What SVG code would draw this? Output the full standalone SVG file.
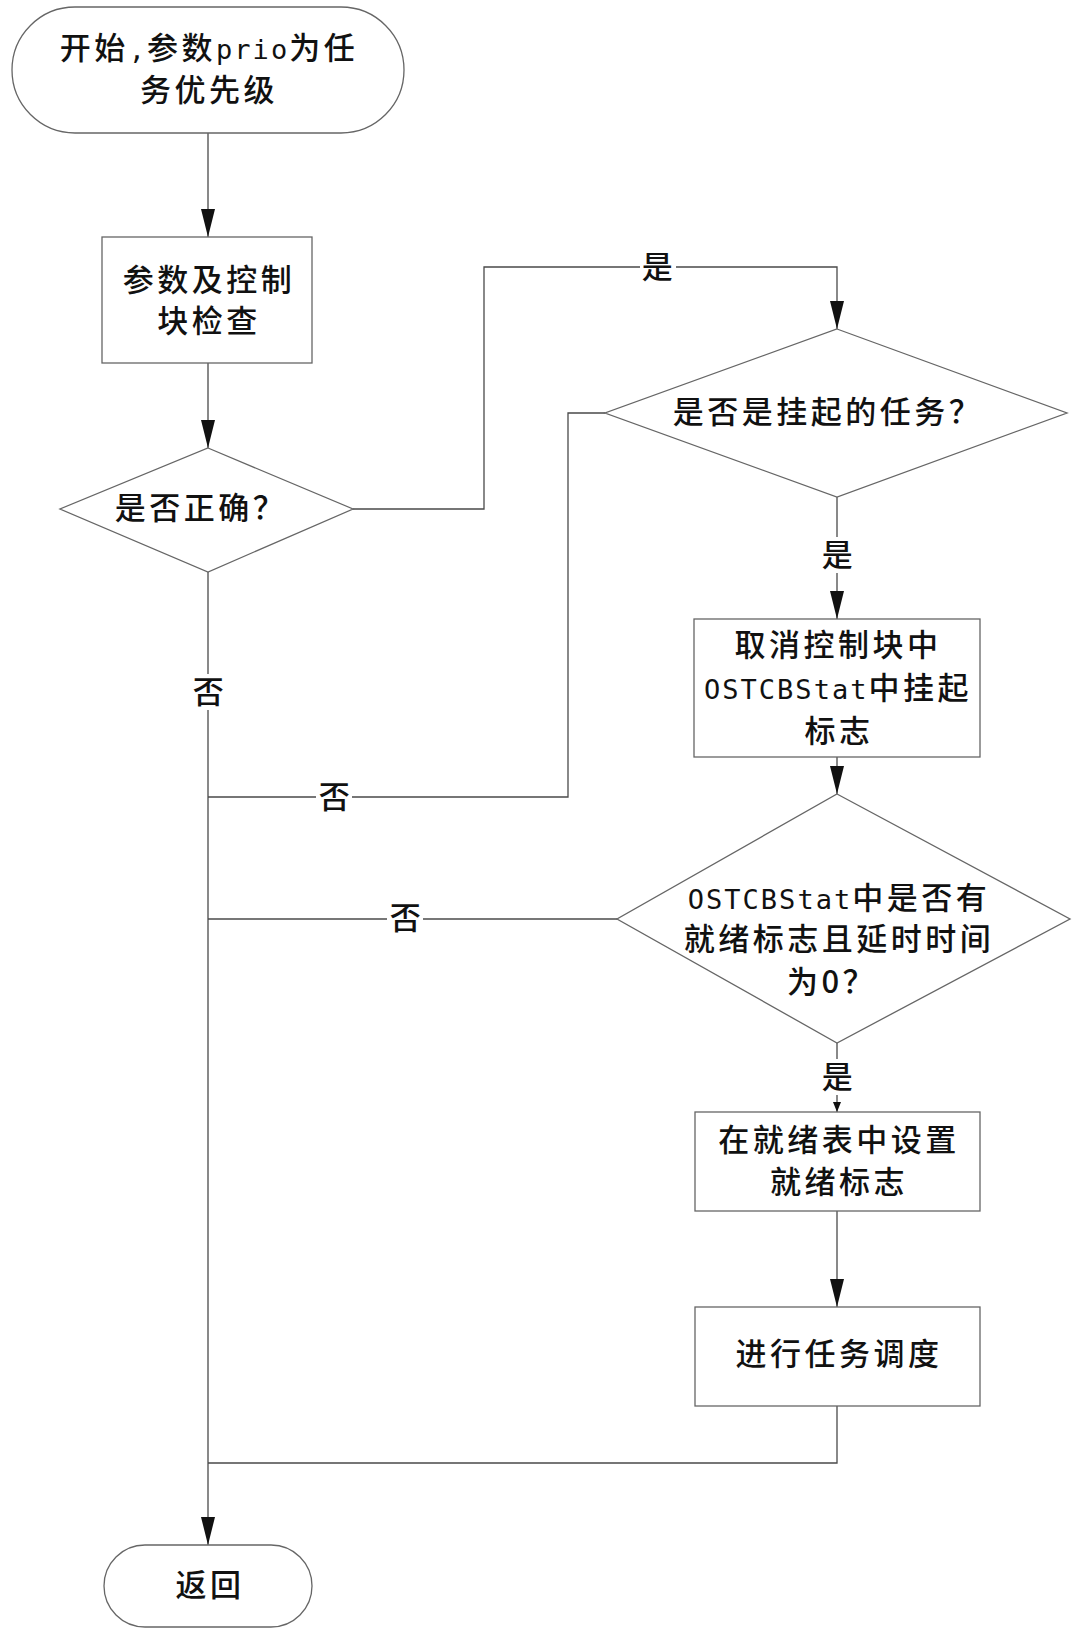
<svg xmlns="http://www.w3.org/2000/svg" width="1076" height="1634" viewBox="0 0 1076 1634">
<defs>
<style>
.shape{fill:#fff;stroke:#666;stroke-width:1.3}
.line{fill:none;stroke:#4a4a4a;stroke-width:1.3}
.t{font-family:"Noto Sans CJK SC","DejaVu Sans",sans-serif;font-size:31px;font-weight:500;letter-spacing:3.5px;fill:#111;text-anchor:middle}
.lat{font-family:"DejaVu Sans Mono","Noto Sans CJK SC",monospace;font-size:27px;letter-spacing:2px;font-weight:400}
.bg{fill:#fff}
</style>
<marker id="arr" markerUnits="userSpaceOnUse" markerWidth="30" markerHeight="16" refX="28" refY="7" orient="auto">
<path d="M0,0 L28,7 L0,14 z" fill="#111"/>
</marker>
<marker id="arrs" markerUnits="userSpaceOnUse" markerWidth="12" markerHeight="10" refX="10" refY="4" orient="auto">
<path d="M0,0 L10,4 L0,8 z" fill="#111"/>
</marker>
</defs>
<rect width="1076" height="1634" fill="#fff"/>

<g id="connectors">
<path class="line" d="M208,133 V237" marker-end="url(#arr)"/>
<path class="line" d="M208,363 V448" marker-end="url(#arr)"/>
<path class="line" d="M353,509 H484 V267 H837 V329" marker-end="url(#arr)"/>
<path class="line" d="M208,572 V1545" marker-end="url(#arr)"/>
<path class="line" d="M605,413 H568 V797 H208"/>
<path class="line" d="M837,497 V619" marker-end="url(#arr)"/>
<path class="line" d="M837,757 V794" marker-end="url(#arr)"/>
<path class="line" d="M617,919 H208"/>
<path class="line" d="M837,1043 V1112" marker-end="url(#arrs)"/>
<path class="line" d="M837,1211 V1307" marker-end="url(#arr)"/>
<path class="line" d="M837,1406 V1463 H208"/>
<g id="labels">
<rect class="bg" x="640" y="250" width="36" height="34"/>
<text class="t" x="659" y="278">是</text>
<rect class="bg" x="820" y="537" width="36" height="36"/>
<text class="t" x="839" y="566">是</text>
<rect class="bg" x="190" y="674" width="36" height="36"/>
<text class="t" x="210" y="703">否</text>
<rect class="bg" x="316" y="780" width="36" height="34"/>
<text class="t" x="336" y="808">否</text>
<rect class="bg" x="387" y="901" width="36" height="34"/>
<text class="t" x="407" y="929">否</text>
<rect class="bg" x="820" y="1059" width="36" height="36"/>
<text class="t" x="839" y="1088">是</text>
</g>
</g>

<g id="start">
<rect class="shape" x="12" y="7" width="392" height="126" rx="63" ry="63"/>
<text class="t" x="209" y="59">开始<tspan class="lat">,</tspan>参数<tspan class="lat">prio</tspan>为任</text>
<text class="t" x="209" y="101">务优先级</text>
</g>

<g id="check">
<rect class="shape" x="102" y="237" width="210" height="126"/>
<text class="t" x="209" y="291">参数及控制</text>
<text class="t" x="209" y="332">块检查</text>
</g>

<g id="correct">
<polygon class="shape" points="208,448 353,509 208,572 60,509"/>
<text class="t" x="201" y="519">是否正确？</text>
</g>

<g id="suspended">
<polygon class="shape" points="837,329 1067,413 837,497 605,413"/>
<text class="t" x="828" y="423">是否是挂起的任务？</text>
</g>

<g id="clear">
<rect class="shape" x="694" y="619" width="286" height="138"/>
<text class="t" x="838" y="656">取消控制块中</text>
<text class="t" x="838" y="699"><tspan class="lat">OSTCBStat</tspan>中挂起</text>
<text class="t" x="839" y="742">标志</text>
</g>

<g id="ready">
<polygon class="shape" points="837,794 1070,919 837,1043 617,919"/>
<text class="t" x="839" y="909"><tspan class="lat">OSTCBStat</tspan>中是否有</text>
<text class="t" x="839" y="950">就绪标志且延时时间</text>
<text class="t" x="832" y="993">为0？</text>
</g>

<g id="setready">
<rect class="shape" x="695" y="1112" width="285" height="99"/>
<text class="t" x="839" y="1151">在就绪表中设置</text>
<text class="t" x="839" y="1193">就绪标志</text>
</g>

<g id="schedule">
<rect class="shape" x="695" y="1307" width="285" height="99"/>
<text class="t" x="839" y="1365">进行任务调度</text>
</g>

<g id="return">
<rect class="shape" x="104" y="1545" width="208" height="82" rx="41" ry="41"/>
<text class="t" x="210" y="1596">返回</text>
</g>
</svg>
